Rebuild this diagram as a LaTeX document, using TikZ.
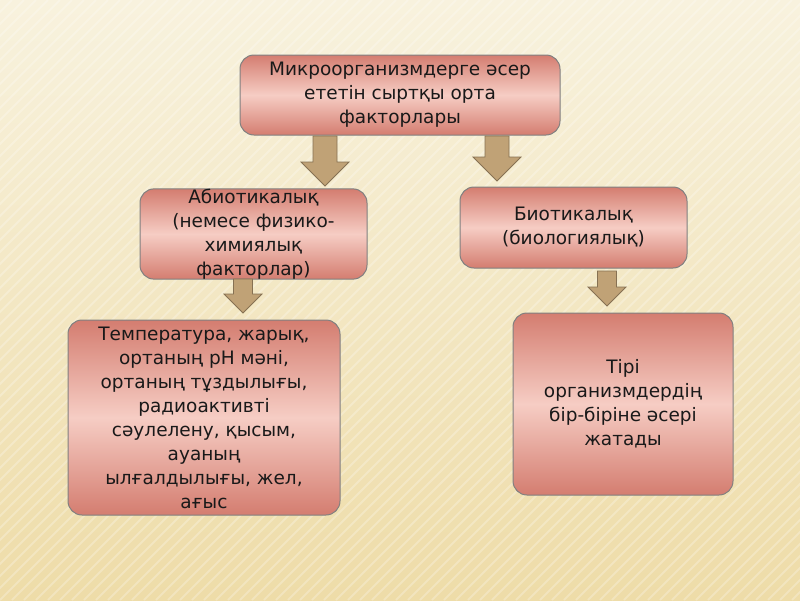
\documentclass[tikz,border=0pt]{standalone}
\usepackage{fontspec}
\setmainfont{DejaVu Sans}
\begin{document}
\begin{tikzpicture}[x=1pt,y=-1pt]
\definecolor{bc}{RGB}{212,125,112}
\definecolor{bm}{RGB}{246,205,196}
\definecolor{ar}{RGB}{192,162,118}
\definecolor{bgt}{RGB}{248,242,222}
\definecolor{bgb}{RGB}{238,220,168}
\tikzset{
  box/.style={draw=black!50,line width=1pt,rounded corners=14pt,
    top color=bc,bottom color=bc,middle color=bm,
    align=center,font=\fontsize{18.5}{24}\selectfont,text=black!90,inner sep=0pt},
  barrow/.style={fill=ar,draw=ar!70!black,line width=0.8pt}}
\useasboundingbox (0,0) rectangle (800,600);
\shade[top color=bgt,bottom color=bgb] (0,0) rectangle (800,600);
\foreach \i in {0,12,...,1400}{
  \draw[white,opacity=0.25,line width=2pt] (\i-600,600) -- (\i,0);}
\node[box,minimum width=320,minimum height=80] (top) at (400,95) {Микроорганизмдерге әсер\\ ететін сыртқы орта\\ факторлары};
\node[box,minimum width=227,minimum height=82] (abio) at (253.5,234) {Абиотикалық\\(немесе физико-\\химиялық\\факторлар)};
\node[box,minimum width=227,minimum height=81] (bio) at (573.5,227.5) {Биотикалық\\(биологиялық)};
\node[box,minimum width=272,minimum height=195] (abl) at (204,417.5) {Температура, жарық,\\ортаның pH мәні,\\ортаның тұздылығы,\\радиоактивті\\сәулелену, қысым,\\ауаның\\ылғалдылығы, жел,\\ағыс};
\node[box,minimum width=220,minimum height=182] (bil) at (623,404) {Тірі\\организмдердің\\бір-біріне әсері\\жатады};
\newcommand\barr[4]{% x, ytop, ybot, halfwidth
  \draw[barrow] (#1-#4/2,#2) -- (#1+#4/2,#2) -- (#1+#4/2,#3-#4) -- (#1+#4,#3-#4) -- (#1,#3) -- (#1-#4,#3-#4) -- (#1-#4/2,#3-#4) -- cycle;}
\barr{325}{136}{186}{24}
\barr{497}{136}{181}{24}
\barr{243}{279}{313}{19}
\barr{607}{271}{306}{19}
\end{tikzpicture}
\end{document}
